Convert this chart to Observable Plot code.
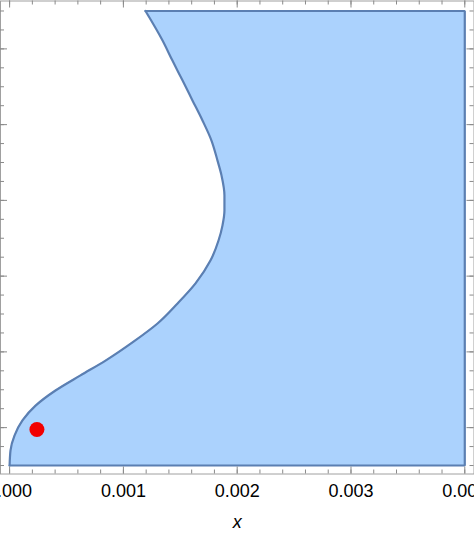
<!DOCTYPE html>
<html>
<head>
<meta charset="utf-8">
<script src="https://cdn.jsdelivr.net/npm/d3@7"></script>
<script src="https://cdn.jsdelivr.net/npm/@observablehq/plot@0.6"></script>
<style>
  html, body { margin: 0; padding: 0; background: white; }
  #wrap { position: relative; width: 474px; height: 534px; overflow: hidden; }
  #wrap svg { position: absolute; left: -30px; top: -10px; max-width: none !important; }
</style>
</head>
<body>
<div id="wrap"></div>
<script>
// Left boundary curve of the region (top to bottom)
const curveX = [0.001194, 0.001344, 0.001431, 0.001519, 0.001607, 0.001695, 0.001774, 0.001827, 0.001862, 0.001888, 0.001888, 0.001871, 0.001836, 0.001765, 0.001634, 0.001476, 0.001300, 0.001089, 0.000843, 0.000623, 0.000403, 0.000228, 0.000113, 0.000043, 0.000008, 0];
const curveY = [1.3, 1.222, 1.169, 1.117, 1.064, 1.011, 0.958, 0.905, 0.866, 0.813, 0.773, 0.734, 0.694, 0.641, 0.581, 0.528, 0.475, 0.427, 0.377, 0.338, 0.298, 0.258, 0.219, 0.179, 0.140, 0.1];

// Region limits (right, bottom, top)
const xMax = 0.004;
const yMin = 0.1;
const yMax = 1.3;

// Red point
const dotX = [0.00024];
const dotY = [0.195];

// Ticks
const xTickLabels = [0, 0.001, 0.002, 0.003, 0.004];
const xMinorTicks = [0, 0.0002, 0.0004, 0.0006, 0.0008, 0.001, 0.0012, 0.0014, 0.0016, 0.0018, 0.002, 0.0022, 0.0024, 0.0026, 0.0028, 0.003, 0.0032, 0.0034, 0.0036, 0.0038, 0.004];
const yMajorTicks = [0.2, 0.4, 0.6, 0.8, 1.0, 1.2];
const yMinorTicks = [0.1, 0.15, 0.2, 0.25, 0.3, 0.35, 0.4, 0.45, 0.5, 0.55, 0.6, 0.65, 0.7, 0.75, 0.8, 0.85, 0.9, 0.95, 1.0, 1.05, 1.1, 1.15, 1.2, 1.25, 1.3];
const xLabel = "x";

const curve = curveX.map((x, i) => ({x, y: curveY[i]}));
const edges = [
  {x: curveX[curveX.length - 1], y: yMin},
  {x: xMax, y: yMin},
  {x: xMax, y: yMax},
  {x: curveX[0], y: yMax}
];
const dots = dotX.map((x, i) => ({x, y: dotY[i]}));

const W = 520, H = 544;
const mL = 30, mR = 16.5, mT = 10.5, mB = 60.5;
const plotW = W - mL - mR, plotH = H - mT - mB;

const fillC = "#abd2fd";
const strokeC = "#5b7fb2";
const tickC = "#8a8a8a";
const fmt = d3.format(".3f");

const chart = Plot.plot({
  width: W, height: H,
  marginLeft: mL, marginRight: mR, marginTop: mT, marginBottom: mB,
  style: {fontFamily: "'Liberation Sans', Arial, sans-serif", background: "white"},
  x: {domain: [-0.00008, 0.004081], axis: null},
  y: {domain: [0.0776, 1.3264], axis: null},
  marks: [
    Plot.areaX(curve, {x1: "x", x2: xMax, y: "y", curve: "monotone-y", fill: fillC}),
    Plot.line(curve, {x: "x", y: "y", curve: "monotone-y", stroke: strokeC, strokeWidth: 2.2}),
    Plot.line(edges, {x: "x", y: "y", stroke: strokeC, strokeWidth: 2.2, strokeLinejoin: "miter"}),
    Plot.dot(dots, {x: "x", y: "y", r: 7.5, fill: "#f20000", stroke: null}),
    Plot.frame({stroke: "#a0a0a0", strokeWidth: 1}),
    // bottom ticks (inward)
    Plot.ruleX(xMinorTicks, {x: d => d, insetTop: plotH - 4, stroke: tickC}),
    Plot.ruleX(xTickLabels, {x: d => d, insetTop: plotH - 7, stroke: tickC}),
    // top ticks
    Plot.ruleX(xMinorTicks, {x: d => d, insetBottom: plotH - 4, stroke: tickC}),
    Plot.ruleX(xTickLabels, {x: d => d, insetBottom: plotH - 7, stroke: tickC}),
    // left ticks
    Plot.ruleY(yMinorTicks, {y: d => d, insetRight: plotW - 4, stroke: tickC}),
    Plot.ruleY(yMajorTicks, {y: d => d, insetRight: plotW - 7, stroke: tickC}),
    // right ticks
    Plot.ruleY(yMinorTicks, {y: d => d, insetLeft: plotW - 4, stroke: tickC}),
    Plot.ruleY(yMajorTicks, {y: d => d, insetLeft: plotW - 7, stroke: tickC}),
    // tick labels
    Plot.text(xTickLabels, {x: d => d, frameAnchor: "bottom", dy: 17.5, lineAnchor: "middle", text: d => fmt(d), fontSize: 18, fill: "black"}),
    // axis label
    Plot.text([xLabel], {frameAnchor: "bottom", dy: 48, lineAnchor: "middle", text: d => d, fontSize: 18, fontStyle: "italic", fill: "black"})
  ]
});
document.getElementById("wrap").appendChild(chart);
</script>
</body>
</html>
